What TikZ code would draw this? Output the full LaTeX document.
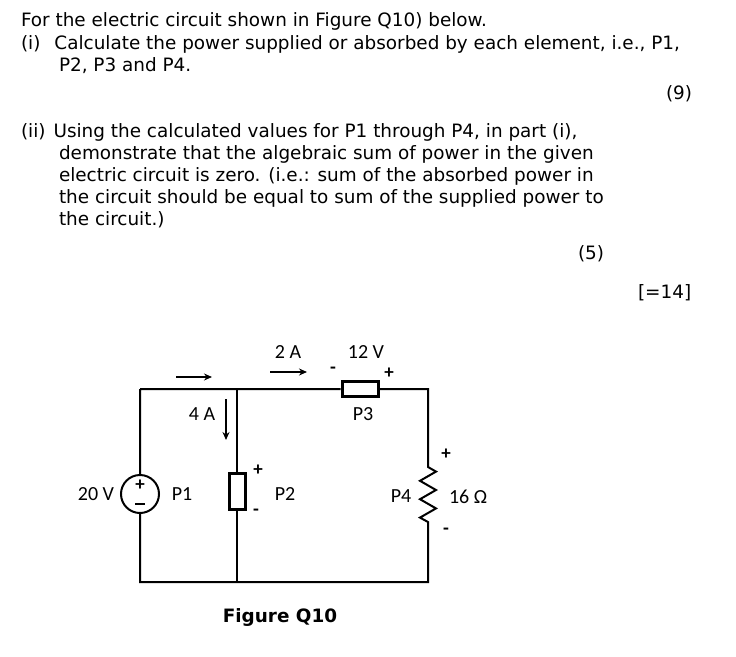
\documentclass[tikz,border=0pt]{standalone}
\usepackage{fontspec}
\setmainfont{DejaVu Sans}
\newfontfamily\calfont{Carlito}
\usetikzlibrary{arrows.meta}
\begin{document}
\begin{tikzpicture}[x=1pt,y=-1pt,line width=2pt,
 txt/.style={anchor=base west,inner sep=0,font=\fontsize{18.4}{20}\selectfont},
 lab/.style={inner sep=0,font=\calfont\fontsize{20}{22}\selectfont},
 sgn/.style={inner sep=0,font=\calfont\bfseries\fontsize{19}{20}\selectfont},
 arr/.style={-{Stealth[length=8pt,width=7pt]},line width=1.6pt}]
\useasboundingbox (0,0) rectangle (736,656);
\node[txt] (t1) at (20,26) {For the electric circuit shown in Figure Q10) below.};
\node[txt] (t2) at (20,49) {(i)\hspace{14pt}Calculate the power supplied or absorbed by each element, i.e., P1,};
\node[txt] (t3) at (58,71) {P2, P3 and P4.};
\node[txt] (t4) at (665,99) {(9)};
\node[txt] (t5) at (20,137) {(ii)\hspace{8pt}Using the calculated values for P1 through P4, in part (i),};
\node[txt] (t6) at (58,159) {demonstrate that the algebraic sum of power in the given};
\node[txt] (t7) at (58,181) {electric circuit is zero. (i.e.: sum of the absorbed power in};
\node[txt] (t8) at (58,203) {the circuit should be equal to sum of the supplied power to};
\node[txt] (t9) at (58,225) {the circuit.)};
\node[txt] (t10) at (577,259) {(5)};
\node[txt] (t11) at (637,298) {[=14]};
% nodes
\coordinate (tl) at (140,389); \coordinate (tm) at (237,389); \coordinate (tr) at (428,389);
\coordinate (bl) at (140,582); \coordinate (bm) at (237,582); \coordinate (br) at (428,582);
\node[circle,draw,minimum size=38pt,inner sep=0] (src) at (140,494) {};
\node[sgn] at (140,485) {+};
\draw[line width=1.8pt] (135,504) -- (145,504);
\node[draw,minimum width=16pt,minimum height=36pt,inner sep=0,line width=3pt] (p2) at (237,491) {};
\node[draw,minimum width=36pt,minimum height=15pt,inner sep=0,line width=3pt] (p3) at (360,389) {};
\coordinate (r1) at (428,467); \coordinate (r2) at (428,522);
\draw (tl) -- (tm) -- (p3.west) (p3.east) -- (tr) -- (r1)
 -- ++(8,4.6) -- ++(-16,9.2) -- ++(16,9.2) -- ++(-16,9.2) -- ++(16,9.2) -- ++(-16,9.2) -- (r2) -- (br) -- (bl) -- (src.south) (src.north) -- (tl);
\draw (tm) -- (p2.north) (p2.south) -- (bm);
% arrows
\draw[arr] (176,377) -- (212,377);
\draw[arr] (270,372) -- (307,372);
\draw[arr] (226,399) -- (226,440);
% labels
\node[lab] at (288,352) {2 A};
\node[lab] at (366,352) {12 V};
\node[sgn] at (333,370) {-};
\node[sgn] at (389,373) {+};
\node[lab] at (363,414) {P3};
\node[lab] at (202,414) {4 A};
\node[lab] at (96,494) {20 V};
\node[lab] at (182,494) {P1};
\node[sgn] at (258,470) {+};
\node[sgn] at (256,512) {-};
\node[lab] at (285,494) {P2};
\node[sgn] at (446,454) {+};
\node[sgn] at (446,531) {-};
\node[lab] at (401,496) {P4};
\node[lab,anchor=west] at (448,497) {16 Ω};
\node[inner sep=0,font=\bfseries\fontsize{18.4}{20}\selectfont] (cap) at (280,617) {Figure Q10};
\end{tikzpicture}
\end{document}
